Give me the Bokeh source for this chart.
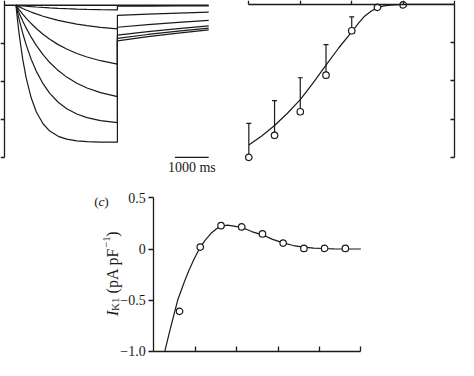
import numpy as np
from bokeh.plotting import figure
from bokeh.models import Range1d, LinearAxis, FixedTicker
from bokeh.core.properties import value
from bokeh.embed import file_html
from bokeh.resources import INLINE

# ---------------- data ----------------
# panel (a): simulated current traces, time in ms, current in normalised units
pulse_t = [0, 50, 100, 200, 300, 450, 600, 800, 1000, 1250, 1500, 1800, 2100, 2500, 3000]
tail_t = [3000, 3900, 4800, 5700]
hold_t = [-330, 5700]
hold_i = [0, 0]
trace_pulse = [
    [0, -0.005, -0.009, -0.018, -0.026, -0.037, -0.047, -0.059, -0.070, -0.082, -0.091, -0.100, -0.108, -0.117, -0.124],
    [0, -0.023, -0.044, -0.086, -0.125, -0.180, -0.229, -0.289, -0.341, -0.398, -0.446, -0.495, -0.536, -0.580, -0.621],
    [0, -0.062, -0.121, -0.233, -0.338, -0.482, -0.611, -0.763, -0.895, -1.036, -1.153, -1.269, -1.362, -1.459, -1.548],
    [0, -0.111, -0.216, -0.414, -0.596, -0.840, -1.054, -1.300, -1.507, -1.719, -1.890, -2.052, -2.176, -2.299, -2.402],
    [0, -0.203, -0.393, -0.736, -1.037, -1.419, -1.732, -2.063, -2.316, -2.551, -2.720, -2.860, -2.954, -3.033, -3.088],
    [0, -0.424, -0.798, -1.419, -1.902, -2.434, -2.801, -3.117, -3.309, -3.447, -3.520, -3.565, -3.586, -3.598, -3.602],
]
trace_tail = [
    [-0.025, -0.022, -0.019, -0.017],
    [-0.266, -0.235, -0.208, -0.184],
    [-0.579, -0.512, -0.453, -0.400],
    [-0.788, -0.696, -0.616, -0.544],
    [-0.870, -0.769, -0.680, -0.601],
    [-0.937, -0.828, -0.733, -0.647],
]
a_ticks = [-4, -3, -2, -1]
scalebar_t = [4700, 5700]
scalebar_label = "1000 ms"

# panel (b): activation, voltage in mV
b_v = [-140, -130, -120, -110, -100, -90, -80]
b_act = [-1.0, -0.856, -0.702, -0.463, -0.173, -0.020, -0.004]
b_err = [0.222, 0.226, 0.222, 0.199, 0.091, 0.0, 0.0]
b_fit_v = [-140, -135, -130, -125, -120, -115, -110, -105, -100, -97.5, -95, -92.5, -90, -87.5, -85, -80, -70, -60]
b_fit = [-0.920, -0.860, -0.792, -0.712, -0.623, -0.513, -0.397, -0.284, -0.181, -0.126, -0.078, -0.045,
         -0.022, -0.010, -0.005, -0.001, 0.0, 0.0]
b_xticks = [-140, -120, -100, -80, -60]
b_yticks = [-1.0, -0.75, -0.5, -0.25]

# panel (c): I-V relation
c_v = [-107.5, -97.5, -87.5, -77.5, -67.5, -57.5, -47.5, -37.5, -27.5]
c_i = [-0.611, 0.019, 0.229, 0.216, 0.148, 0.058, 0.006, 0.006, 0.006]
c_fit_v = [-114.6, -111.8, -108.4, -105.3, -103.0, -100.65, -97.5, -95.1, -92.3, -89.5, -87.1, -84.3,
           -80.6, -77.0, -72.7, -67.5, -62.9, -57.6, -52.6, -47.8, -42.8, -38.0, -33.0, -27.9, -20.0]
c_fit = [-1.0, -0.769, -0.5, -0.329, -0.210, -0.106, 0.019, 0.087, 0.154, 0.201, 0.225, 0.234,
         0.222, 0.208, 0.171, 0.139, 0.097, 0.060, 0.034, 0.019, 0.009, 0.005, 0.002, 0.0, 0.0]
c_xticks = [-100, -80, -60, -40, -20]
c_yticks = [-1.0, -0.5, 0.0, 0.5]
c_ylabels = {-1.0: "\u22121.0", -0.5: "\u22120.5", 0.0: "0", 0.5: "0.5"}

# ---------------- layout ----------------
REF_W, REF_H = 474, 381
W, H = 458, 360
INK = "#1a1a1a"
FONT = "Liberation Serif"

p = figure(width=W, height=H, x_range=Range1d(0, REF_W), y_range=Range1d(REF_H, 0),
           x_axis_type=None, y_axis_type=None, output_backend="svg", toolbar_location=None,
           min_border=0, outline_line_color=None, background_fill_color="white",
           border_fill_color="white")


def xr(v0, X0, s):
    return Range1d(v0 - X0 / s, v0 + (REF_W - X0) / s)


def yr(v0, Y0, s):
    return Range1d(v0 - (REF_H - Y0) / s, v0 + Y0 / s)


p.extra_x_ranges = {"ax": xr(0, 16, 0.035), "bx": xr(-140, 257, 213 / 80), "cx": xr(-120, 158.5, 2.145)}
p.extra_y_ranges = {"ay": yr(0, 5, 40.25), "by": yr(0, 4, 162), "cy": yr(0, 263, 108)}


def make_axis(xn, yn, loc, ticks, bounds, tin, tout, labels=None):
    ax = LinearAxis(x_range_name=xn, y_range_name=yn, fixed_location=loc, bounds=bounds,
                    ticker=FixedTicker(ticks=ticks, minor_ticks=[]),
                    major_tick_in=tin, major_tick_out=tout, minor_tick_in=0, minor_tick_out=0,
                    axis_line_color=INK, axis_line_width=1.3,
                    major_tick_line_color=INK, major_tick_line_width=1.3)
    if labels is None:
        ax.major_label_text_color = None
    else:
        ax.major_label_overrides = labels
        ax.major_label_text_font = FONT
        ax.major_label_text_font_size = "14px"
        ax.major_label_text_color = INK
        ax.major_label_standoff = 3
    return ax


# panel a axis
p.add_layout(make_axis("ax", "ay", -330, a_ticks, (-4, 0.3), 0, 4), "left")
# panel b axes
p.add_layout(make_axis("bx", "by", 0, b_xticks, (-140, -60), 0, 4), "above")
p.add_layout(make_axis("bx", "by", -60, b_yticks, (-1.0, 0.0), 4, 0), "right")
# panel c axes
p.add_layout(make_axis("cx", "cy", -120, c_yticks, (-1.0, 0.5), 0, 5, c_ylabels), "left")
p.add_layout(make_axis("cx", "cy", -1.0, c_xticks, (-120, -20), 5, 0), "below")

# ---- panel a traces
p.line(hold_t, hold_i, x_range_name="ax", y_range_name="ay", line_color=INK, line_width=1.4)
xs = [pulse_t + tail_t for _ in trace_pulse]
ys = [tp + tt for tp, tt in zip(trace_pulse, trace_tail)]
p.multi_line(xs, ys, x_range_name="ax", y_range_name="ay", line_color=INK, line_width=1.2)
p.line(scalebar_t, [a_ticks[0]] * 2, x_range_name="ax", y_range_name="ay", line_color=INK, line_width=1.2)
p.text(x=[sum(scalebar_t) / 2], y=[a_ticks[0] - 0.27], text=[scalebar_label], x_range_name="ax", y_range_name="ay",
       text_font=value(FONT), text_font_size="14px", text_align="center", text_baseline="middle",
       text_color=INK)

# ---- panel b
p.line(b_fit_v, b_fit, x_range_name="bx", y_range_name="by", line_color=INK, line_width=1.2)
eb_v = [v for v, e in zip(b_v, b_err) if e > 0]
eb_lo = [a for a, e in zip(b_act, b_err) if e > 0]
eb_hi = [a + e for a, e in zip(b_act, b_err) if e > 0]
p.segment(x0=eb_v, y0=eb_lo, x1=eb_v, y1=eb_hi, x_range_name="bx", y_range_name="by",
          line_color=INK, line_width=1.2)
p.scatter(x=eb_v, y=eb_hi, marker="dash", size=5, x_range_name="bx", y_range_name="by",
          line_color=INK, line_width=1.2)
p.scatter(x=b_v, y=b_act, marker="circle", size=6.5, x_range_name="bx", y_range_name="by",
          fill_color="white", line_color=INK, line_width=1.2)

# ---- panel c
p.line(c_fit_v, c_fit, x_range_name="cx", y_range_name="cy", line_color=INK, line_width=1.2)
p.scatter(x=c_v, y=c_i, marker="circle", size=6.5, x_range_name="cx", y_range_name="cy",
          fill_color="white", line_color=INK, line_width=1.2)

# panel letter (c)
p.text(x=[97], y=[213], text=["("], text_font=value(FONT), text_font_size="13.5px",
       text_align="left", text_baseline="alphabetic", text_color=INK)
p.text(x=[101.5], y=[213], text=["c"], text_font=value(FONT), text_font_size="13.5px",
       text_font_style="italic", text_align="left", text_baseline="alphabetic", text_color=INK)
p.text(x=[107.5], y=[213], text=[")"], text_font=value(FONT), text_font_size="13.5px",
       text_align="left", text_baseline="alphabetic", text_color=INK)

# y label of panel c, rotated, built from pieces
ang = np.pi / 2
BX = 116
p.text(x=[BX], y=[334], text=["I"], angle=ang, text_font=value(FONT), text_font_size="16px",
       text_font_style="italic", text_align="left", text_baseline="alphabetic", text_color=INK)
p.text(x=[BX + 3], y=[328.5], text=["K1"], angle=ang, text_font=value(FONT), text_font_size="11px",
       text_align="left", text_baseline="alphabetic", text_color=INK)
p.text(x=[BX], y=[310], text=["(pA pF"], angle=ang, text_font=value(FONT), text_font_size="16px",
       text_align="left", text_baseline="alphabetic", text_color=INK)
p.text(x=[BX - 6.5], y=[262], text=["\u22121"], angle=ang, text_font=value(FONT), text_font_size="11px",
       text_align="left", text_baseline="alphabetic", text_color=INK)
p.text(x=[BX], y=[250], text=[")"], angle=ang, text_font=value(FONT), text_font_size="16px",
       text_align="left", text_baseline="alphabetic", text_color=INK)

open("out.html", "w").write(file_html(p, INLINE))
